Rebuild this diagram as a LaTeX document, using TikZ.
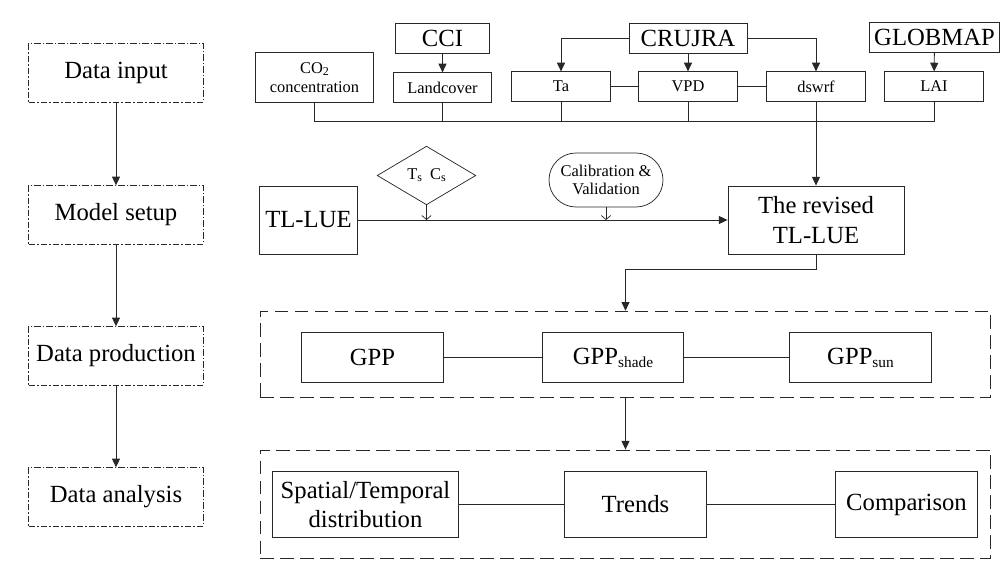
\documentclass[tikz,border=0pt]{standalone}
\usepackage{fontspec}
\setmainfont{Liberation Serif}
\usetikzlibrary{arrows.meta,shapes.geometric,shapes.misc}
\definecolor{lineC}{RGB}{40,40,40}
\newcommand{\lowsub}[1]{\raisebox{-0.12em}{\fontsize{11.5pt}{11.5pt}\selectfont #1}}
\tikzset{
  stage/.style={rectangle, draw=lineC, line width=0.55pt,
                dash pattern=on 5pt off 1.6pt on 0.8pt off 1.6pt,
                minimum width=131pt, minimum height=44pt, inner sep=0pt,
                font=\fontsize{18.5pt}{22pt}\selectfont},
  big/.style  ={rectangle, draw=lineC, line width=0.65pt, align=center, inner sep=0pt,
                font=\fontsize{18.5pt}{22pt}\selectfont},
  var/.style  ={rectangle, draw=lineC, line width=0.65pt, align=center, inner sep=0pt,
                minimum width=74pt, minimum height=22pt,
                font=\fontsize{12.3pt}{13.8pt}\selectfont},
  grp/.style  ={rectangle, draw=lineC, line width=0.65pt, dash pattern=on 10pt off 5pt,
                minimum width=548pt},
  fl/.style   ={-{Triangle[length=6.5pt,width=6pt]}, line width=0.65pt, draw=lineC},
  link/.style ={line width=0.65pt, draw=lineC},
  hint/.style ={-{Straight Barb[length=3pt,width=7pt]}, line width=0.55pt, draw=lineC},
}

\begin{document}
\begin{tikzpicture}[x=0.75pt, y=-0.75pt]
\useasboundingbox (0,0) rectangle (1007,574);
% left column
\node[stage] (din)  at (116,73)  {Data input};
\node[stage] (dms)  at (116,215) {Model setup};
\node[stage] (dpr)  at (116,356) {Data production};
\node[stage] (dan)  at (116,497) {Data analysis};
\foreach \a/\b in {din/dms, dms/dpr, dpr/dan}
  \draw[fl] (\a) -- (\b);
% inputs
\node[var, minimum width=88pt, minimum height=37pt] (co2) at (314.5,77.5) {CO{\fontsize{9pt}{9pt}\selectfont\raisebox{-0.15em}{2}}\\concentration};
\node[big, minimum width=71pt, minimum height=22pt] (cci) at (442.5,38.5) {CCI};
\node[var] (lc)    at (442.5,87.5) {Landcover};
\node[big, minimum width=88.5pt, minimum height=22.5pt] (cru) at (688,38) {CRUJRA};
\node[var] (ta)    at (561,86.5) {Ta};
\node[var] (vpd)   at (688,86.5) {VPD};
\node[var] (dswrf) at (816,86.5) {dswrf};
\node[big, minimum width=97pt, minimum height=22.5pt] (glob) at (934.5,37) {GLOBMAP};
\node[var] (lai)   at (934,86.5) {LAI};
\draw[fl] (cci) -- (lc);
\draw[fl] (glob) -- (lai);
\draw[fl] (cru) -- (vpd);
\draw[fl] (cru.west) -| (ta.north);
\draw[fl] (cru.east) -| (dswrf.north);
\draw[link] (ta) -- (vpd);
\draw[link] (vpd) -- (dswrf);
\coordinate (bus) at (0,121);
\draw[link] (co2.south) |- (lai.south |- bus) -- (lai.south);
\foreach \n in {lc, ta, vpd}
  \draw[link] (\n.south) -- (\n.south |- bus);
% model setup
\node[big, minimum width=74pt, minimum height=51pt] (tl) at (308.5,220) {TL-LUE};
\node[big, minimum width=132pt, minimum height=51pt] (rev) at (816,220) {The revised\\TL-LUE};
\node[diamond, draw=lineC, line width=0.55pt, aspect=1.68, minimum width=74pt, minimum height=44pt,
      inner sep=0pt, font=\fontsize{12.3pt}{13.8pt}\selectfont] (tsc) at (426.5,175.5)
      {T{\fontsize{9pt}{9pt}\selectfont\raisebox{-0.15em}{s}}\ \ C{\fontsize{9pt}{9pt}\selectfont\raisebox{-0.15em}{s}}};
\node[rounded rectangle, draw=lineC, line width=0.55pt, minimum width=85.5pt, minimum height=40.5pt,
      inner sep=0pt, align=center, font=\fontsize{12.3pt}{14pt}\selectfont] (cal) at (606,180)
      {Calibration \&\\Validation};
\draw[fl] (dswrf.south) -- (rev.north);
\draw[fl] (tl.east) -- (rev.west);
\draw[hint] (tsc.south) -- (tsc.south |- tl.east);
\draw[hint] (cal.south) -- (cal.south |- tl.east);
% production
\node[grp, minimum height=65pt] (prod) at (625.5,354.5) {};
\node[big, minimum width=106pt, minimum height=37pt] (gpp)   at (372.5,357.5) {GPP};
\node[big, minimum width=106pt, minimum height=37pt] (gshd)  at (613,357.5) {GPP\lowsub{shade}};
\node[big, minimum width=106pt, minimum height=37pt] (gsun)  at (860.5,357.5) {GPP\lowsub{sun}};
\draw[link] (gpp) -- (gshd);
\draw[link] (gshd) -- (gsun);
\coordinate (bend) at (625.5,269);
\draw[fl] (rev.south) |- (bend) -- (prod.north);
% analysis
\node[grp, minimum height=81pt] (ana) at (625.5,504) {};
\node[big, minimum width=140pt, minimum height=50pt] (spt)  at (365.5,504.5) {Spatial/Temporal\\distribution};
\node[big, minimum width=106pt, minimum height=50pt] (trd)  at (635.5,504.5) {Trends};
\node[big, minimum width=106pt, minimum height=50pt] (cmp)  at (906.5,504.5) {Comparison};
\draw[link] (spt) -- (trd);
\draw[link] (trd) -- (cmp);
\draw[fl] (prod.south) -- (ana.north);
\end{tikzpicture}
\end{document}
